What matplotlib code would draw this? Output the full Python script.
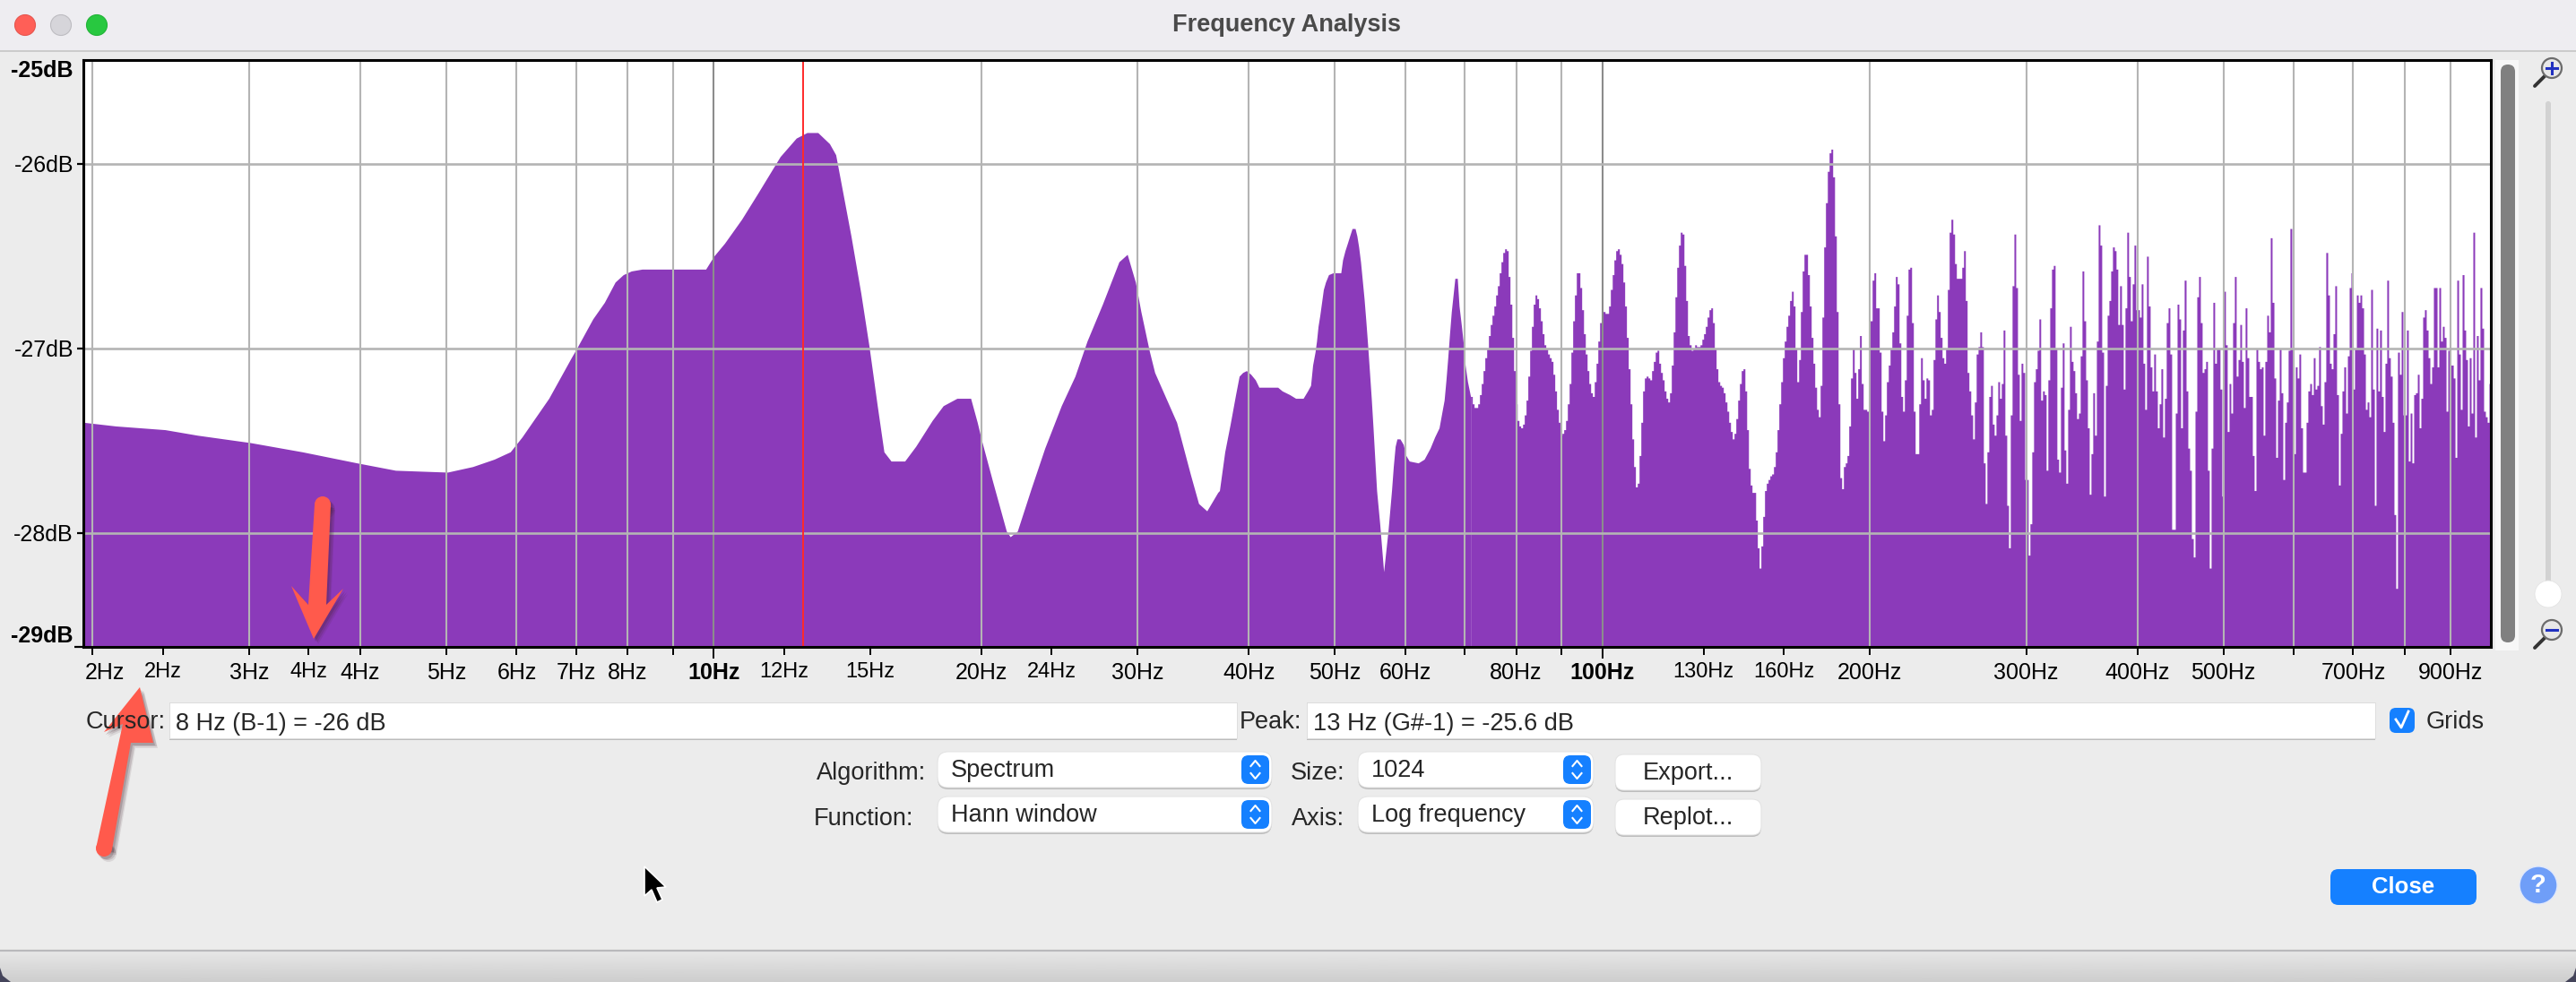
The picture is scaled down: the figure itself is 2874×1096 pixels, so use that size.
import numpy as np
import matplotlib
matplotlib.use("Agg")
from matplotlib import pyplot as plt
from matplotlib.patches import Circle, Ellipse, FancyBboxPatch, Polygon, Rectangle
from matplotlib.transforms import ScaledTranslation

plt.rcParams['font.family'] = ['Liberation Sans', 'DejaVu Sans']

# Spectrum, smooth low frequency part: log10(Hz) and dB
smooth_log10_hz = [
    0.2906, 0.3269, 0.3824, 0.4188, 0.4783, 0.5368, 0.5984, 0.6418, 0.7003, 0.7286,
    0.7528, 0.7709, 0.7841, 0.8143, 0.8396, 0.8456, 0.8638, 0.8769, 0.8890, 0.8981,
    0.9072, 0.9193, 0.9909, 1.0000, 1.0121, 1.0313, 1.0494, 1.0747, 1.0928, 1.1049,
    1.1171, 1.1302, 1.1372, 1.1423, 1.1544, 1.1655, 1.1748, 1.1840, 1.1915, 1.1995,
    1.2149, 1.2273, 1.2458, 1.2582, 1.2737, 1.2891, 1.2965, 1.3015, 1.3138, 1.3293,
    1.3336, 1.3416, 1.3571, 1.3725, 1.3911, 1.4065, 1.4201, 1.4374, 1.4560, 1.4653,
    1.4745, 1.4807, 1.4900, 1.4962, 1.5209, 1.5363, 1.5456, 1.5549, 1.5672, 1.5691,
    1.5751, 1.5812, 1.5873, 1.5913, 1.5953, 1.5994, 1.6044, 1.6095, 1.6135, 1.6347,
    1.6397, 1.6481, 1.6549, 1.6633, 1.6683, 1.6717, 1.6740, 1.6767, 1.6784, 1.6801,
    1.6821, 1.6841, 1.6861, 1.6885, 1.6919, 1.6969, 1.7057, 1.7077, 1.7104, 1.7131,
    1.7157, 1.7184, 1.7218, 1.7238, 1.7258, 1.7279, 1.7299, 1.7319, 1.7339, 1.7359,
    1.7379, 1.7400, 1.7420, 1.7440, 1.7460, 1.7495, 1.7539, 1.7588, 1.7628, 1.7648,
    1.7669, 1.7689, 1.7723, 1.7760, 1.7790, 1.7827, 1.7928, 1.7995, 1.8062, 1.8113,
    1.8163, 1.8197, 1.8220, 1.8241, 1.8261, 1.8281, 1.8301, 1.8321, 1.8341, 1.8368,
    1.8388, 1.8415, 1.8442, 1.8456, 1.8483, 1.8517,
]
smooth_db = [
    -27.40, -27.42, -27.44, -27.47, -27.51, -27.56, -27.62, -27.66, -27.67, -27.64,
    -27.60, -27.56, -27.48, -27.27, -27.05, -27.00, -26.84, -26.75, -26.64, -26.60,
    -26.58, -26.57, -26.57, -26.50, -26.43, -26.30, -26.16, -25.96, -25.86, -25.83,
    -25.83, -25.89, -25.95, -26.08, -26.39, -26.70, -26.99, -27.31, -27.56, -27.61,
    -27.61, -27.53, -27.39, -27.31, -27.27, -27.27, -27.40, -27.50, -27.72, -27.99,
    -28.02, -27.99, -27.76, -27.54, -27.31, -27.15, -26.96, -26.76, -26.53, -26.49,
    -26.64, -26.80, -27.01, -27.13, -27.40, -27.68, -27.84, -27.88, -27.78, -27.77,
    -27.56, -27.41, -27.25, -27.15, -27.13, -27.12, -27.14, -27.17, -27.21, -27.21,
    -27.23, -27.25, -27.27, -27.27, -27.23, -27.20, -27.09, -27.02, -26.96, -26.88,
    -26.82, -26.75, -26.68, -26.64, -26.60, -26.59, -26.59, -26.52, -26.47, -26.43,
    -26.39, -26.35, -26.35, -26.39, -26.45, -26.53, -26.63, -26.73, -26.85, -26.98,
    -27.12, -27.27, -27.43, -27.60, -27.77, -27.95, -28.21, -27.99, -27.77, -27.64,
    -27.53, -27.49, -27.49, -27.52, -27.58, -27.61, -27.62, -27.60, -27.54, -27.48,
    -27.43, -27.34, -27.28, -27.17, -27.05, -26.92, -26.80, -26.71, -26.62, -26.62,
    -26.77, -26.88, -27.00, -27.09, -27.18, -27.26,
]

# Spectrum, spiky high frequency part, one value per drawn column
spike_log10_hz = [
    1.8517, 1.8537, 1.8557, 1.8578, 1.8598, 1.8618, 1.8638, 1.8658, 1.8678, 1.8699,
    1.8719, 1.8739, 1.8759, 1.8780, 1.8800, 1.8820, 1.8840, 1.8860, 1.8880, 1.8901,
    1.8921, 1.8941, 1.8961, 1.8982, 1.9002, 1.9022, 1.9042, 1.9062, 1.9082, 1.9103,
    1.9122, 1.9142, 1.9162, 1.9183, 1.9203, 1.9223, 1.9243, 1.9263, 1.9283, 1.9304,
    1.9324, 1.9344, 1.9364, 1.9385, 1.9405, 1.9425, 1.9445, 1.9465, 1.9485, 1.9506,
    1.9526, 1.9546, 1.9566, 1.9587, 1.9607, 1.9627, 1.9647, 1.9667, 1.9687, 1.9708,
    1.9728, 1.9748, 1.9768, 1.9789, 1.9809, 1.9829, 1.9849, 1.9869, 1.9889, 1.9910,
    1.9930, 1.9950, 1.9970, 1.9991, 2.0011, 2.0031, 2.0051, 2.0071, 2.0091, 2.0112,
    2.0131, 2.0151, 2.0171, 2.0192, 2.0212, 2.0232, 2.0252, 2.0272, 2.0292, 2.0313,
    2.0333, 2.0353, 2.0373, 2.0394, 2.0414, 2.0434, 2.0454, 2.0474, 2.0494, 2.0515,
    2.0535, 2.0555, 2.0575, 2.0596, 2.0616, 2.0636, 2.0656, 2.0676, 2.0696, 2.0717,
    2.0737, 2.0757, 2.0777, 2.0798, 2.0818, 2.0838, 2.0858, 2.0878, 2.0898, 2.0919,
    2.0939, 2.0959, 2.0979, 2.1000, 2.1020, 2.1040, 2.1060, 2.1080, 2.1100, 2.1121,
    2.1140, 2.1160, 2.1180, 2.1201, 2.1221, 2.1241, 2.1261, 2.1281, 2.1301, 2.1322,
    2.1342, 2.1362, 2.1382, 2.1403, 2.1423, 2.1443, 2.1463, 2.1483, 2.1503, 2.1524,
    2.1544, 2.1564, 2.1584, 2.1605, 2.1625, 2.1645, 2.1665, 2.1685, 2.1705, 2.1726,
    2.1745, 2.1765, 2.1785, 2.1806, 2.1826, 2.1846, 2.1866, 2.1886, 2.1906, 2.1927,
    2.1947, 2.1967, 2.1987, 2.2008, 2.2028, 2.2048, 2.2068, 2.2088, 2.2108, 2.2129,
    2.2149, 2.2169, 2.2189, 2.2210, 2.2230, 2.2250, 2.2270, 2.2290, 2.2310, 2.2331,
    2.2351, 2.2371, 2.2391, 2.2412, 2.2432, 2.2452, 2.2472, 2.2492, 2.2512, 2.2533,
    2.2553, 2.2573, 2.2593, 2.2614, 2.2634, 2.2654, 2.2674, 2.2694, 2.2714, 2.2735,
    2.2754, 2.2774, 2.2794, 2.2815, 2.2835, 2.2855, 2.2875, 2.2895, 2.2915, 2.2936,
    2.2956, 2.2976, 2.2996, 2.3017, 2.3037, 2.3057, 2.3077, 2.3097, 2.3117, 2.3138,
    2.3158, 2.3178, 2.3198, 2.3219, 2.3239, 2.3259, 2.3279, 2.3299, 2.3319, 2.3340,
    2.3360, 2.3380, 2.3400, 2.3421, 2.3441, 2.3461, 2.3481, 2.3501, 2.3521, 2.3542,
    2.3562, 2.3582, 2.3602, 2.3623, 2.3643, 2.3663, 2.3683, 2.3703, 2.3723, 2.3744,
    2.3763, 2.3783, 2.3803, 2.3824, 2.3844, 2.3864, 2.3884, 2.3904, 2.3924, 2.3945,
    2.3965, 2.3985, 2.4005, 2.4026, 2.4046, 2.4066, 2.4086, 2.4106, 2.4126, 2.4147,
    2.4168, 2.4188, 2.4208, 2.4229, 2.4249, 2.4269, 2.4289, 2.4309, 2.4329, 2.4350,
    2.4370, 2.4390, 2.4410, 2.4431, 2.4451, 2.4471, 2.4491, 2.4511, 2.4531, 2.4552,
    2.4572, 2.4592, 2.4612, 2.4633, 2.4653, 2.4673, 2.4693, 2.4713, 2.4733, 2.4754,
    2.4773, 2.4793, 2.4813, 2.4834, 2.4854, 2.4874, 2.4894, 2.4914, 2.4934, 2.4955,
    2.4975, 2.4995, 2.5015, 2.5036, 2.5056, 2.5076, 2.5096, 2.5116, 2.5136, 2.5157,
    2.5177, 2.5197, 2.5217, 2.5238, 2.5258, 2.5278, 2.5298, 2.5318, 2.5338, 2.5359,
    2.5379, 2.5399, 2.5419, 2.5440, 2.5460, 2.5480, 2.5500, 2.5520, 2.5540, 2.5561,
    2.5581, 2.5601, 2.5621, 2.5642, 2.5662, 2.5682, 2.5702, 2.5722, 2.5742, 2.5763,
    2.5782, 2.5802, 2.5822, 2.5843, 2.5863, 2.5883, 2.5903, 2.5923, 2.5943, 2.5964,
    2.5984, 2.6004, 2.6024, 2.6045, 2.6065, 2.6085, 2.6105, 2.6125, 2.6145, 2.6166,
    2.6186, 2.6206, 2.6226, 2.6247, 2.6267, 2.6287, 2.6307, 2.6327, 2.6347, 2.6368,
    2.6388, 2.6408, 2.6428, 2.6449, 2.6469, 2.6489, 2.6509, 2.6529, 2.6549, 2.6570,
    2.6590, 2.6610, 2.6630, 2.6651, 2.6671, 2.6691, 2.6711, 2.6731, 2.6751, 2.6772,
    2.6791, 2.6811, 2.6831, 2.6852, 2.6872, 2.6892, 2.6912, 2.6932, 2.6952, 2.6973,
    2.6993, 2.7013, 2.7033, 2.7054, 2.7074,
    2.7094, 2.7114, 2.7134, 2.7155, 2.7175, 2.7195, 2.7215, 2.7235, 2.7255, 2.7276,
    2.7296, 2.7316, 2.7336, 2.7357, 2.7377, 2.7397, 2.7417, 2.7437, 2.7457, 2.7478,
    2.7498, 2.7518, 2.7538, 2.7559, 2.7579, 2.7599, 2.7619, 2.7639, 2.7659, 2.7680,
    2.7699, 2.7719, 2.7739, 2.7760, 2.7780, 2.7800, 2.7820, 2.7840, 2.7860, 2.7881,
    2.7901, 2.7921, 2.7941, 2.7962, 2.7982, 2.8002, 2.8022, 2.8042, 2.8062, 2.8083,
    2.8103, 2.8123, 2.8143, 2.8164, 2.8184, 2.8204, 2.8224, 2.8244, 2.8264, 2.8285,
    2.8305, 2.8325, 2.8345, 2.8366, 2.8386, 2.8406, 2.8426, 2.8446, 2.8466, 2.8487,
    2.8507, 2.8527, 2.8547, 2.8568, 2.8588, 2.8608, 2.8628, 2.8648, 2.8668, 2.8689,
    2.8708, 2.8728, 2.8748, 2.8769, 2.8789, 2.8809, 2.8829, 2.8849, 2.8869, 2.8890,
    2.8910, 2.8930, 2.8950, 2.8971, 2.8991, 2.9011, 2.9031, 2.9051, 2.9071, 2.9092,
    2.9112, 2.9132, 2.9152, 2.9173, 2.9193, 2.9213, 2.9233, 2.9253, 2.9273, 2.9294,
    2.9314, 2.9334, 2.9354, 2.9375, 2.9395, 2.9415, 2.9435, 2.9455, 2.9475, 2.9496,
    2.9516, 2.9536, 2.9556, 2.9577, 2.9597, 2.9617, 2.9637, 2.9657, 2.9677, 2.9698,
    2.9717, 2.9737, 2.9757, 2.9778, 2.9798, 2.9818, 2.9838, 2.9858, 2.9878, 2.9899,
    2.9919, 2.9939, 2.9959, 2.9980,
]
spike_db = [
    -27.26, -27.30, -27.32, -27.32, -27.30, -27.25, -27.19, -27.12, -27.05, -27.00,
    -26.93, -26.87, -26.82, -26.77, -26.71, -26.66, -26.59, -26.53, -26.48, -26.46,
    -26.47, -26.61, -26.76, -26.94, -27.12, -27.30, -27.39, -27.42, -27.43, -27.41,
    -27.36, -27.28, -27.15, -27.01, -26.88, -26.76, -26.71, -26.73, -26.78, -26.85,
    -26.92, -26.98, -27.00, -27.03, -27.05, -27.07, -27.14, -27.23, -27.33, -27.40,
    -27.47, -27.46, -27.44, -27.39, -27.30, -27.19, -27.02, -26.85, -26.71, -26.59,
    -26.59, -26.67, -26.79, -26.92, -27.03, -27.12, -27.19, -27.24, -27.26, -27.18,
    -27.08, -26.96, -26.86, -26.80, -26.80, -26.81, -26.81, -26.77, -26.68, -26.60,
    -26.52, -26.47, -26.46, -26.49, -26.54, -26.64, -26.77, -26.94, -27.11, -27.30,
    -27.49, -27.64, -27.75, -27.73, -27.58, -27.40, -27.23, -27.16, -27.15, -27.16,
    -27.17, -27.12, -27.07, -27.02, -27.01, -27.08, -27.13, -27.17, -27.23, -27.27,
    -27.29, -27.24, -27.09, -26.91, -26.72, -26.56, -26.44, -26.37, -26.38, -26.55,
    -26.74, -26.93, -26.98, -27.01, -27.00, -26.98, -26.99, -26.99, -26.98, -26.95,
    -26.92, -26.88, -26.83, -26.79, -26.78, -26.86, -27.00, -27.11, -27.18, -27.20,
    -27.21, -27.24, -27.29, -27.34, -27.40, -27.45, -27.49, -27.46, -27.38, -27.28,
    -27.19, -27.12, -27.11, -27.23, -27.44, -27.65, -27.74, -27.78, -27.78, -27.93,
    -28.08, -28.19, -28.07, -27.91, -27.77, -27.73, -27.71, -27.69, -27.68, -27.64,
    -27.56, -27.44, -27.30, -27.18, -27.05, -26.96, -26.88, -26.82, -26.74, -26.69,
    -26.77, -27.00, -27.18, -27.06, -26.80, -26.58, -26.49, -26.49, -26.60, -26.77,
    -26.94, -27.08, -27.21, -27.33, -27.37, -27.20, -26.83, -26.45, -26.21, -26.04,
    -25.94, -25.92, -26.07, -26.39, -26.80, -27.30, -27.70, -27.76, -27.64, -27.62,
    -27.58, -27.42, -27.16, -27.00, -27.13, -27.27, -27.11, -26.93, -27.19, -27.33,
    -27.33, -27.34, -26.85, -26.85, -26.63, -26.59, -26.78, -26.78, -27.02, -27.34,
    -27.50, -27.36, -27.18, -27.09, -27.00, -26.91, -26.77, -26.61, -26.65, -26.97,
    -27.26, -27.34, -27.17, -26.82, -26.57, -26.56, -26.86, -27.34, -27.57, -27.57,
    -27.30, -27.05, -27.17, -27.27, -27.16, -27.17, -27.36, -27.33, -27.06, -26.84,
    -26.71, -26.80, -26.94, -27.05, -27.08, -27.00, -26.68, -26.37, -26.30, -26.38,
    -26.54, -26.62, -26.62, -26.62, -26.56, -26.47, -26.74, -27.13, -27.23, -27.36,
    -27.49, -27.29, -27.03, -26.99, -26.91, -26.99, -27.62, -27.84, -27.56, -27.26,
    -27.20, -27.41, -27.47, -27.36, -27.18, -27.27, -27.19, -26.90, -27.47, -27.85,
    -28.08, -27.36, -26.66, -26.38, -26.67, -27.14, -27.39, -27.08, -27.13, -27.71,
    -27.71, -28.12, -27.95, -27.56, -27.18, -27.11, -27.01, -26.84, -27.28, -27.23,
    -27.25, -27.66, -27.17, -26.78, -26.57, -26.55, -27.00, -27.60, -27.67, -27.21,
    -26.97, -27.55, -27.73, -27.33, -26.88, -27.07, -27.12, -27.24, -27.38, -27.35,
    -27.04, -26.58, -26.85, -27.17, -27.43, -27.79, -27.57, -27.24, -27.47, -26.96,
    -26.33, -26.44, -27.02, -27.80, -27.20, -26.82, -26.74, -26.58, -26.45, -26.47,
    -26.57, -26.87, -26.66, -26.87, -27.22, -26.78, -26.37, -26.61, -26.85, -26.65,
    -26.44, -26.79, -26.79, -26.83, -26.65, -27.08, -27.33, -26.50, -26.77, -27.10,
    -27.23, -27.03, -27.23, -27.43, -27.30, -27.11, -27.48, -27.27, -26.86, -26.78,
    -27.03, -27.98, -27.98, -27.35, -26.76, -26.84, -27.43, -26.90, -26.63, -27.23,
    -27.54, -27.66, -28.03, -28.13, -27.34, -26.72, -26.61, -26.86, -27.13, -27.11,
    -27.07, -27.66, -28.19, -27.54, -26.75, -27.08, -27.00, -27.00, -27.22, -27.80,
    -26.69, -26.98, -27.45, -27.19, -27.35,
    -26.86, -26.61, -27.15, -27.06, -26.87, -27.07, -27.32, -26.78, -27.05, -27.26,
    -27.26, -27.58, -27.77, -27.00, -27.07, -27.11, -27.10, -27.47, -27.07, -26.82,
    -26.91, -26.40, -26.75, -27.16, -27.59, -27.28, -27.00, -27.24, -27.71, -27.40,
    -27.29, -27.01, -26.35, -27.00, -27.57, -27.10, -27.16, -27.03, -27.43, -27.67,
    -27.67, -27.40, -27.23, -27.19, -27.25, -27.05, -27.22, -27.20, -26.99, -27.31,
    -27.41, -27.18, -26.48, -26.71, -27.08, -27.11, -26.92, -26.66, -27.25, -27.74,
    -27.46, -27.23, -27.10, -27.35, -27.04, -26.67, -26.59, -27.22, -27.00, -26.71,
    -26.75, -26.71, -26.78, -27.03, -27.33, -27.29, -27.37, -26.68, -27.22, -27.85,
    -26.89, -27.23, -26.90, -27.26, -27.45, -27.08, -26.63, -27.05, -27.15, -27.40,
    -27.90, -28.30, -27.02, -27.14, -26.80, -27.36, -27.36, -26.90, -27.61, -27.35,
    -27.62, -27.25, -27.24, -27.14, -27.43, -27.27, -26.83, -26.79, -26.90, -27.05,
    -27.19, -27.10, -26.67, -26.67, -27.10, -26.67, -26.96, -26.88, -26.94, -27.34,
    -27.01, -27.09, -27.09, -27.16, -27.59, -26.63, -27.03, -27.33, -26.60, -26.90,
    -27.06, -27.42, -27.05, -27.35, -26.37, -27.48, -26.93, -27.17, -26.67, -26.89,
    -27.34, -27.37, -27.40, -27.19,
]

# Axis values
y_limits = [-28.617, -25.437]
x_limits = [1.952, 1000]
x_tick_hz = [2, 2.4, 3, 3.5, 4, 5, 6, 7, 8, 9, 10, 12, 15, 20, 24, 30, 40, 50, 60, 70, 80, 90,
             100, 130, 160, 200, 300, 400, 500, 600, 700, 800, 900]
x_tick_labels = ['2Hz', '2Hz', '3Hz', '4Hz', '4Hz', '5Hz', '6Hz', '7Hz', '8Hz', '', '10Hz', '12Hz',
                 '15Hz', '20Hz', '24Hz', '30Hz', '40Hz', '50Hz', '60Hz', '', '80Hz', '', '100Hz',
                 '130Hz', '160Hz', '200Hz', '300Hz', '400Hz', '500Hz', '', '700Hz', '', '900Hz']
small_tick_hz = [2.4, 3.5, 12, 15, 24, 130, 160]
bold_tick_hz = [10, 100]
grid_hz = [2, 3, 4, 5, 6, 7, 8, 9, 20, 30, 40, 50, 60, 70, 80, 90, 200, 300, 400, 500, 600, 700, 800, 900]
decade_grid_hz = [10, 100]
grid_db = [-26, -27, -28]
y_tick_db = [-25.437, -26, -27, -28, -28.617]
y_tick_labels = ['-25dB', '-26dB', '-27dB', '-28dB', '-29dB']
cursor_hz = 12.6

W, H = 2874, 1096
PURPLE = '#8b3aba'
CORAL = '#ff5a4c'
BLUE = '#1580ff'

fig = plt.figure(figsize=(W / 100, H / 100), dpi=100, facecolor='#ececec')

# plot area, frame is at 93..2779 x 67..722 in pixels
ax = fig.add_axes([93 / W, 1 - 722 / H, (2779 - 93) / W, (722 - 67) / H])
ax.set_xscale('log')
ax.set_xlim(x_limits)
ax.set_ylim(y_limits)

smooth_hz = 10 ** np.array(smooth_log10_hz)
spike_hz = np.append(10 ** np.array(spike_log10_hz), x_limits[1])
spike_levels = np.append(spike_db, spike_db[-1])
ax.fill_between(smooth_hz, smooth_db, -29, color=PURPLE, lw=0, zorder=2)
ax.fill_between(spike_hz, spike_levels, -29, step='post', color=PURPLE, lw=0, zorder=2)

for hz in grid_hz:
    ax.axvline(hz, color='#b4b4b4', lw=1.5, zorder=3)
for hz in decade_grid_hz:
    ax.axvline(hz, color='#8c8c8c', lw=1.5, zorder=3)
for db in grid_db:
    ax.axhline(db, color='#b4b4b4', lw=1.9, zorder=3)
ax.axvline(cursor_hz, color='#ff2a2a', lw=1.4, zorder=4)

ax.set_xticks(x_tick_hz, x_tick_labels)
ax.minorticks_off()
ax.tick_params(axis='x', length=6.5, width=1.4, pad=6, labelsize=18)
ax.set_yticks(y_tick_db, y_tick_labels)
ax.tick_params(axis='y', length=5, width=1.6, pad=3, labelsize=18)
for spine in ax.spines.values():
    spine.set_linewidth(2.2)
    spine.set_zorder(6)

for hz, tick in zip(x_tick_hz, ax.xaxis.get_major_ticks()):
    if hz in small_tick_hz:
        tick.label1.set_fontsize(17)
    if hz in bold_tick_hz:
        tick.label1.set_fontweight('bold')
        tick.tick1line.set_markersize(9)
first_label = ax.xaxis.get_major_ticks()[0].label1
first_label.set_transform(first_label.get_transform() + ScaledTranslation(13 / 100, 0, fig.dpi_scale_trans))

y_ticks = ax.yaxis.get_major_ticks()
y_ticks[0].label1.set_fontweight('bold')
y_ticks[0].label1.set_verticalalignment('top')
y_ticks[0].tick1line.set_visible(False)
y_ticks[4].label1.set_fontweight('bold')
y_ticks[4].label1.set_verticalalignment('bottom')
y_ticks[4].tick1line.set_markersize(7)

# window chrome on top, in pixel coordinates
ui = fig.add_axes([0, 0, 1, 1], zorder=10)
ui.patch.set_visible(False)
ui.axis('off')
ui.set_xlim(0, W)
ui.set_ylim(H, 0)


def rounded(x0, y0, x1, y1, radius, color, edge='none', lw=0, z=2):
    box = FancyBboxPatch((x0, y0), x1 - x0, y1 - y0, boxstyle=f'round,pad=0,rounding_size={radius}',
                         facecolor=color, edgecolor=edge, lw=lw, zorder=z)
    ui.add_patch(box)


def label(x, y, text, ha='left', color='#262626', size=19.5, weight='normal'):
    ui.text(x, y, text, ha=ha, va='center', color=color, fontsize=size, fontweight=weight, zorder=8)


def dropdown(x0, x1, y0, text):
    rounded(x0, y0 + 2, x1, y0 + 42, 12, '#bdbdbd', z=2)
    rounded(x0, y0, x1, y0 + 40, 12, 'white', edge='#e2e2e2', lw=0.7, z=3)
    rounded(x1 - 34, y0 + 4, x1 - 3, y0 + 36, 8, BLUE, z=4)
    cx = x1 - 18.5
    cy = y0 + 20
    ui.plot([cx - 5, cx, cx + 5], [cy - 4, cy - 10, cy - 4], color='white', lw=1.5, zorder=5)
    ui.plot([cx - 5, cx, cx + 5], [cy + 4, cy + 10, cy + 4], color='white', lw=1.5, zorder=5)
    label(x0 + 15, y0 + 21, text)


def button(x0, x1, y0, text):
    rounded(x0, y0 + 2, x1, y0 + 42, 10, '#bdbdbd', z=2)
    rounded(x0, y0, x1, y0 + 40, 10, 'white', edge='#e2e2e2', lw=0.7, z=3)
    label((x0 + x1) / 2, y0 + 21, text, ha='center')


def text_field(x0, x1, text):
    ui.add_patch(Rectangle((x0, 784), x1 - x0, 42, facecolor='#bcbcbc', lw=0, zorder=2))
    ui.add_patch(Rectangle((x0, 784), x1 - x0, 40, facecolor='white', edgecolor='#dedede', lw=0.7, zorder=3))
    label(x0 + 7, 808, text)


def arrow(points, cap, cap_r):
    for dx, dy, alpha in [(5, 6, 0.10), (4, 4, 0.15), (2, 3, 0.20)]:
        ui.add_patch(Polygon([(x + dx, y + dy) for x, y in points], facecolor='#40202a', alpha=alpha, lw=0, zorder=6))
        ui.add_patch(Circle((cap[0] + dx, cap[1] + dy), cap_r, facecolor='#40202a', alpha=alpha, lw=0, zorder=6))
    ui.add_patch(Polygon(points, facecolor=CORAL, lw=0, zorder=7))
    ui.add_patch(Circle(cap, cap_r, facecolor=CORAL, lw=0, zorder=7))


# title bar
ui.add_patch(Rectangle((0, 0), W, 56, facecolor='#eeedf1', lw=0, zorder=1))
ui.plot([0, W], [56.5, 56.5], color='#cbcbcb', lw=1.4, zorder=2)
for cx, color, edge in [(28, '#ff5f57', '#e5564f'), (68, '#d6d5da', '#bdbcc1'), (108, '#28c840', '#22b338')]:
    ui.add_patch(Circle((cx, 28), 11.5, facecolor=color, edgecolor=edge, lw=0.8, zorder=3))
label(1436, 28, 'Frequency Analysis', ha='center', color='#4a4a4a', weight='bold')

# bottom bar, light grey fade
fade = np.linspace(0.905, 0.805, 40).reshape(-1, 1)
ui.imshow(fade, extent=(0, W, H, 1061), aspect='auto', cmap='gray', vmin=0, vmax=1, zorder=1)
ui.set_xlim(0, W)
ui.set_ylim(H, 0)
ui.plot([0, W], [1061, 1061], color='#b9b9bc', lw=1.6, zorder=2)
ui.add_patch(Polygon([(0, 1080), (3, 1089), (12, 1096), (0, 1096)], facecolor='#44445a', lw=0, zorder=3))
ui.add_patch(Polygon([(W, 1080), (W - 3, 1089), (W - 12, 1096), (W, 1096)], facecolor='#44445a', lw=0, zorder=3))

# scroll bar and zoom slider
ui.add_patch(Rectangle((2784, 67), 26, 659, facecolor='#f7f7f7', lw=0, zorder=1))
rounded(2790, 72, 2806, 717, 8, '#808080')
rounded(2840, 113, 2846, 660, 3, '#d2d2d2')
ui.add_patch(Ellipse((2843, 663), 30, 30, facecolor='white', edgecolor='#e4e4e4', lw=0.6, zorder=4))
for cy, sign in [(76, '+'), (703, '-')]:
    ui.plot([2828, 2840], [cy + 20, cy + 8], color='#333333', lw=2.8, solid_capstyle='round', zorder=3)
    ui.add_patch(Circle((2847, cy), 11, facecolor='#e8e8e8', edgecolor='#6c6c6c', lw=1.6, zorder=4))
    ui.plot([2841, 2853], [cy, cy], color='#2030c0', lw=2.2, zorder=5)
    if sign == '+':
        ui.plot([2847, 2847], [cy - 6, cy + 6], color='#2030c0', lw=2.2, zorder=5)

# read outs
label(96, 806, 'Cursor:')
text_field(189, 1380, '8 Hz (B-1) = -26 dB')
label(1452, 806, 'Peak:', ha='right')
text_field(1458, 2650, '13 Hz (G#-1) = -25.6 dB')
rounded(2666, 790, 2694, 818, 7, BLUE)
ui.plot([2673, 2679, 2687], [803, 812, 794], color='white', lw=2, zorder=5)
label(2707, 806, 'Grids')

# algorithm controls
label(1033, 863, 'Algorithm:', ha='right')
dropdown(1046, 1419, 839, 'Spectrum')
label(1019, 914, 'Function:', ha='right')
dropdown(1046, 1419, 889, 'Hann window')
label(1500, 863, 'Size:', ha='right')
dropdown(1515, 1778, 839, '1024')
label(1500, 914, 'Axis:', ha='right')
dropdown(1515, 1778, 889, 'Log frequency')
button(1802, 1965, 842, 'Export...')
button(1802, 1965, 892, 'Replot...')

# close and help
rounded(2600, 970, 2763, 1010, 9, BLUE)
label(2681, 990, 'Close', ha='center', color='white', size=18.5, weight='bold')
ui.add_patch(Circle((2832, 988), 21, facecolor='#6f9ef8', edgecolor='#e0e8fb', lw=1, zorder=3))
label(2832, 988, '?', ha='center', color='white', size=21, weight='bold')

# annotation arrows
arrow([(351, 563), (369, 563), (364, 675), (383, 657), (350, 713), (325, 654), (344, 675)], (360, 563), 9)
arrow([(107, 947), (125, 948), (146, 829), (171, 829), (156, 767), (116, 817), (137, 808)], (116, 947), 9)

# mouse pointer
ui.add_patch(Polygon([(719, 967), (719, 1000), (727, 993), (733, 1007), (739, 1004), (733, 991), (743, 990)],
                     facecolor='black', edgecolor='white', lw=1.2, zorder=8))

fig.savefig('out.png', dpi=100)
